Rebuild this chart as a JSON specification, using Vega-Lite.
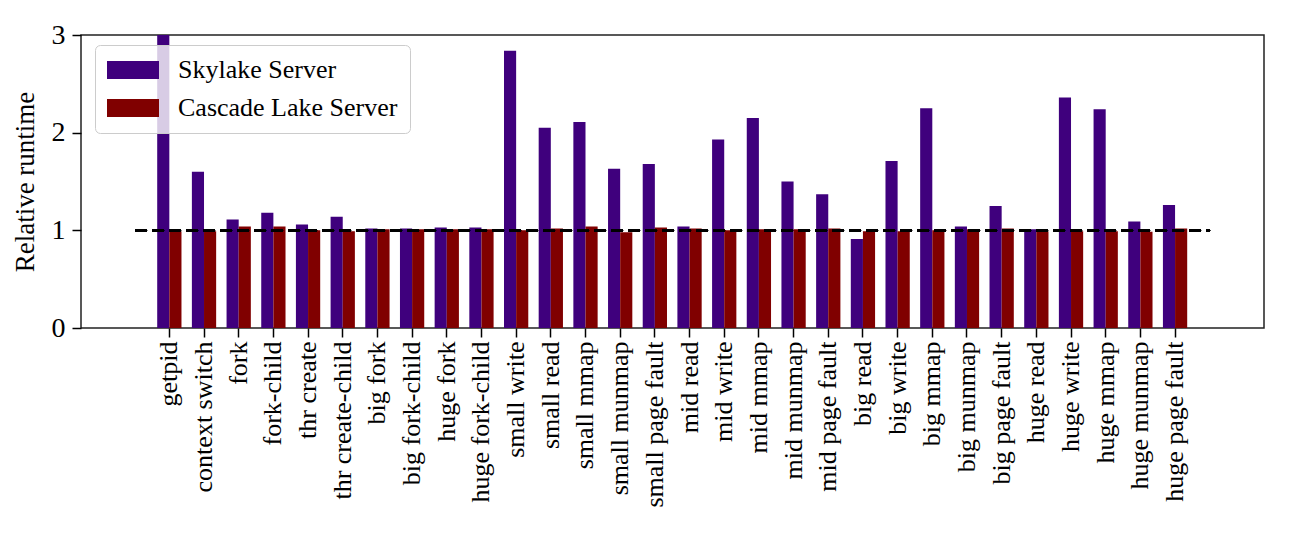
{
  "$schema": "https://vega.github.io/schema/vega-lite/v6.json",
  "autosize": {"type": "none"},
  "padding": {"left": 81, "top": 35, "right": 29, "bottom": 210},
  "width": 1183,
  "height": 293,
  "config": {
    "font": "Liberation Serif",
    "view": {"stroke": "#222222", "strokeWidth": 1.5},
    "axis": {"domainColor": "black", "tickColor": "black", "labelColor": "black", "titleColor": "black", "grid": false, "domainWidth": 1.5, "tickWidth": 1.5, "tickSize": 9}
  },
  "data": {"values": [
    {"test": "getpid", "server": "Skylake Server", "value": 3.0},
    {"test": "getpid", "server": "Cascade Lake Server", "value": 0.99},
    {"test": "context switch", "server": "Skylake Server", "value": 1.6},
    {"test": "context switch", "server": "Cascade Lake Server", "value": 0.99},
    {"test": "fork", "server": "Skylake Server", "value": 1.11},
    {"test": "fork", "server": "Cascade Lake Server", "value": 1.04},
    {"test": "fork-child", "server": "Skylake Server", "value": 1.18},
    {"test": "fork-child", "server": "Cascade Lake Server", "value": 1.04},
    {"test": "thr create", "server": "Skylake Server", "value": 1.06},
    {"test": "thr create", "server": "Cascade Lake Server", "value": 1.0},
    {"test": "thr create-child", "server": "Skylake Server", "value": 1.14},
    {"test": "thr create-child", "server": "Cascade Lake Server", "value": 0.99},
    {"test": "big fork", "server": "Skylake Server", "value": 1.02},
    {"test": "big fork", "server": "Cascade Lake Server", "value": 1.01},
    {"test": "big fork-child", "server": "Skylake Server", "value": 1.02},
    {"test": "big fork-child", "server": "Cascade Lake Server", "value": 1.01},
    {"test": "huge fork", "server": "Skylake Server", "value": 1.03},
    {"test": "huge fork", "server": "Cascade Lake Server", "value": 1.01},
    {"test": "huge fork-child", "server": "Skylake Server", "value": 1.03},
    {"test": "huge fork-child", "server": "Cascade Lake Server", "value": 1.01},
    {"test": "small write", "server": "Skylake Server", "value": 2.84},
    {"test": "small write", "server": "Cascade Lake Server", "value": 1.0},
    {"test": "small read", "server": "Skylake Server", "value": 2.05},
    {"test": "small read", "server": "Cascade Lake Server", "value": 1.02},
    {"test": "small mmap", "server": "Skylake Server", "value": 2.11},
    {"test": "small mmap", "server": "Cascade Lake Server", "value": 1.04},
    {"test": "small munmap", "server": "Skylake Server", "value": 1.63},
    {"test": "small munmap", "server": "Cascade Lake Server", "value": 0.98},
    {"test": "small page fault", "server": "Skylake Server", "value": 1.68},
    {"test": "small page fault", "server": "Cascade Lake Server", "value": 1.03},
    {"test": "mid read", "server": "Skylake Server", "value": 1.04},
    {"test": "mid read", "server": "Cascade Lake Server", "value": 1.02},
    {"test": "mid write", "server": "Skylake Server", "value": 1.93},
    {"test": "mid write", "server": "Cascade Lake Server", "value": 1.0},
    {"test": "mid mmap", "server": "Skylake Server", "value": 2.15},
    {"test": "mid mmap", "server": "Cascade Lake Server", "value": 1.01},
    {"test": "mid munmap", "server": "Skylake Server", "value": 1.5},
    {"test": "mid munmap", "server": "Cascade Lake Server", "value": 1.01},
    {"test": "mid page fault", "server": "Skylake Server", "value": 1.37},
    {"test": "mid page fault", "server": "Cascade Lake Server", "value": 1.02},
    {"test": "big read", "server": "Skylake Server", "value": 0.91},
    {"test": "big read", "server": "Cascade Lake Server", "value": 0.99},
    {"test": "big write", "server": "Skylake Server", "value": 1.71},
    {"test": "big write", "server": "Cascade Lake Server", "value": 0.99},
    {"test": "big mmap", "server": "Skylake Server", "value": 2.25},
    {"test": "big mmap", "server": "Cascade Lake Server", "value": 1.0},
    {"test": "big munmap", "server": "Skylake Server", "value": 1.04},
    {"test": "big munmap", "server": "Cascade Lake Server", "value": 1.01},
    {"test": "big page fault", "server": "Skylake Server", "value": 1.25},
    {"test": "big page fault", "server": "Cascade Lake Server", "value": 1.02},
    {"test": "huge read", "server": "Skylake Server", "value": 1.01},
    {"test": "huge read", "server": "Cascade Lake Server", "value": 0.99},
    {"test": "huge write", "server": "Skylake Server", "value": 2.36},
    {"test": "huge write", "server": "Cascade Lake Server", "value": 0.99},
    {"test": "huge mmap", "server": "Skylake Server", "value": 2.24},
    {"test": "huge mmap", "server": "Cascade Lake Server", "value": 0.99},
    {"test": "huge munmap", "server": "Skylake Server", "value": 1.09},
    {"test": "huge munmap", "server": "Cascade Lake Server", "value": 0.985},
    {"test": "huge page fault", "server": "Skylake Server", "value": 1.26},
    {"test": "huge page fault", "server": "Cascade Lake Server", "value": 1.02}
  ]},
  "layer": [
    {
      "mark": {"type": "bar", "clip": true},
      "encoding": {
        "x": {
          "field": "test", "type": "nominal", "sort": null,
          "scale": {"paddingInner": 0.3, "paddingOuter": 0, "range": [76.2, 1106.2]},
          "axis": {"title": null, "labelAngle": -90, "labelFontSize": 26, "labelPadding": 4, "domain": false}
        },
        "xOffset": {"field": "server", "type": "nominal", "scale": {"domain": ["Skylake Server", "Cascade Lake Server"]}},
        "y": {
          "field": "value", "type": "quantitative",
          "scale": {"domain": [0, 3], "nice": false},
          "axis": {"title": "Relative runtime", "titleFontSize": 27, "titleFontWeight": "normal", "labelFontSize": 28, "values": [0, 1, 2, 3], "format": "d", "titlePadding": 12, "labelPadding": 7, "domain": false}
        },
        "color": {
          "field": "server", "type": "nominal",
          "scale": {"domain": ["Skylake Server", "Cascade Lake Server"], "range": ["#3f007d", "#800000"]},
          "legend": {
            "title": null, "orient": "none", "legendX": 14, "legendY": 10,
            "labelFontSize": 26, "labelOffset": 32, "labelColor": "black", "labelLimit": 0,
            "symbolType": "M-2,-0.7H2V0.7H-2Z", "symbolSize": 676, "symbolOffset": 13, "symbolStrokeWidth": 0, "symbolOpacity": 1,
            "padding": 12, "rowPadding": 12,
            "fillColor": "rgba(255,255,255,0.8)", "strokeColor": "#cccccc", "cornerRadius": 5
          }
        }
      }
    },
    {
      "mark": {"type": "rule", "color": "black", "strokeDash": [12, 5], "strokeWidth": 2},
      "encoding": {
        "y": {"datum": 1, "type": "quantitative"},
        "x": {"datum": "getpid", "type": "nominal", "bandPosition": -0.914},
        "x2": {"datum": "huge page fault", "bandPosition": 1.94}
      }
    }
  ]
}
